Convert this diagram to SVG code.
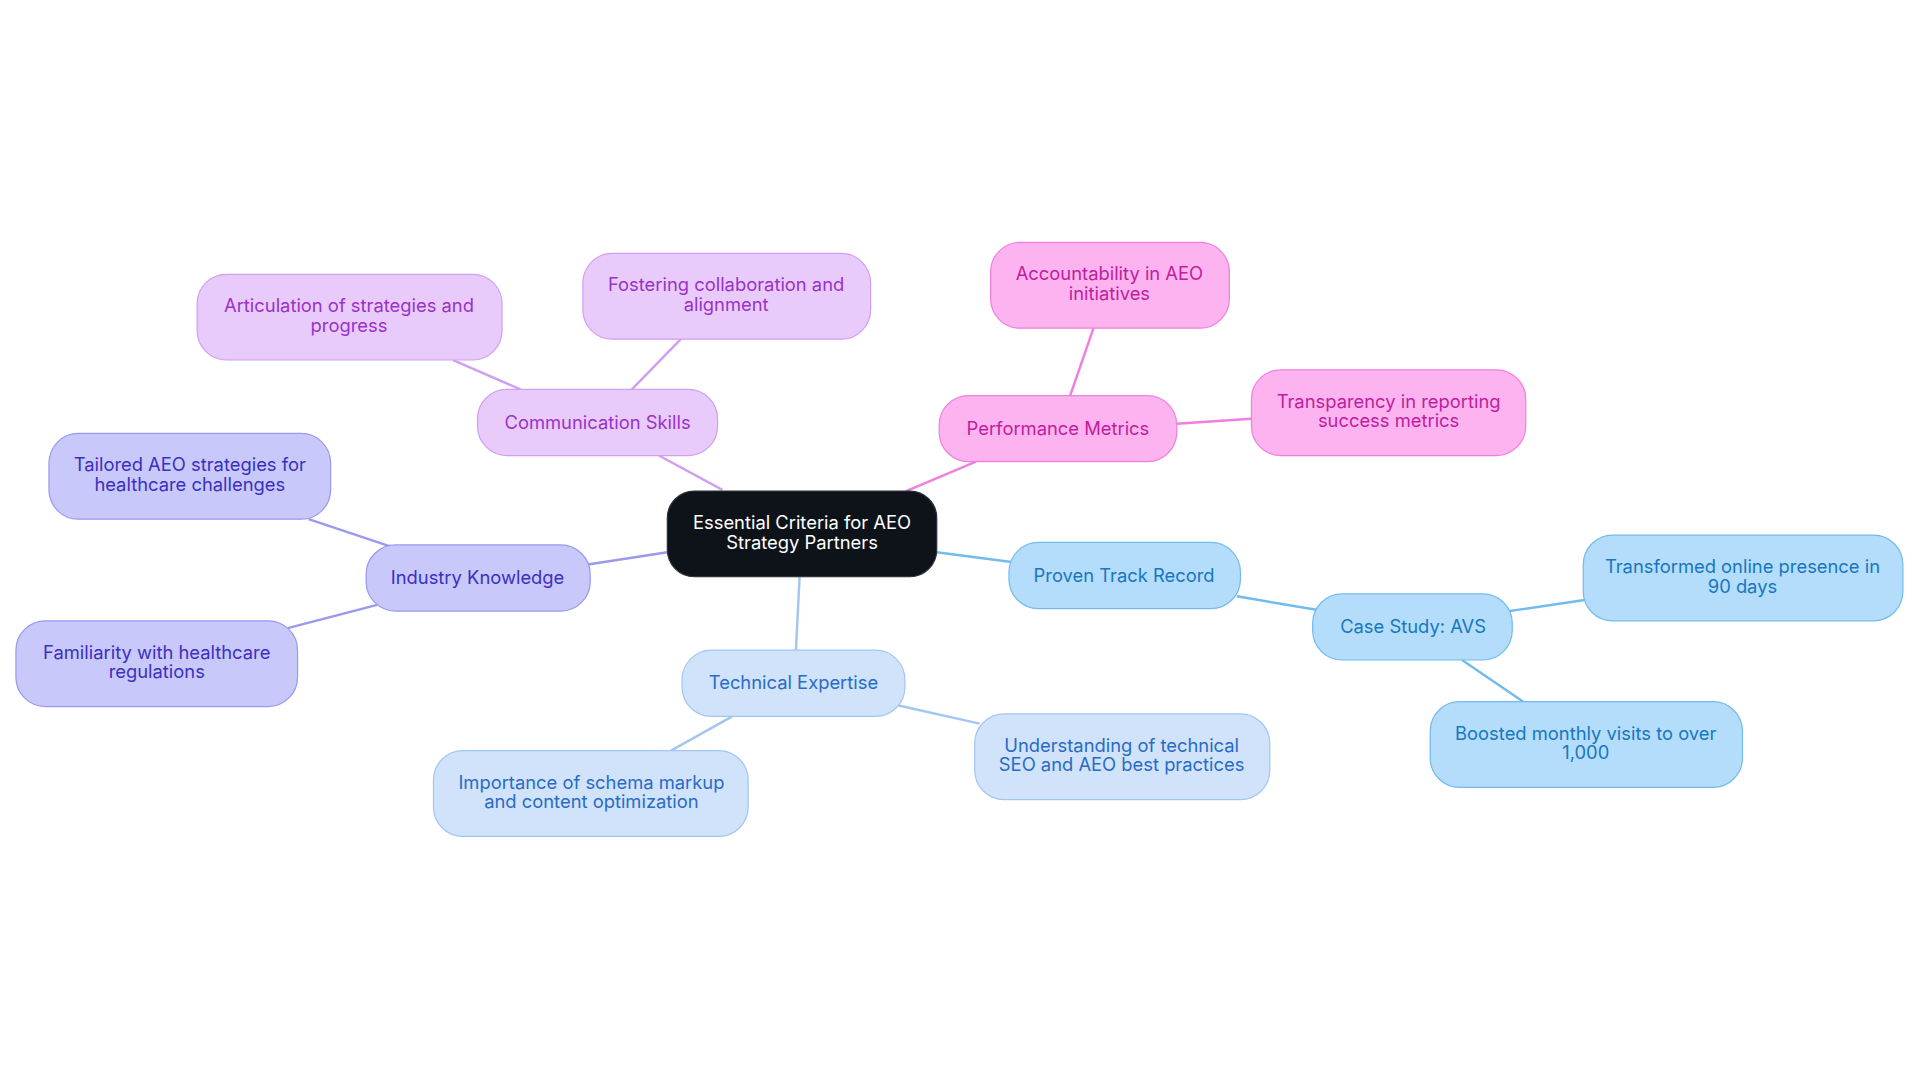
<svg xmlns="http://www.w3.org/2000/svg" width="1920" height="1083" viewBox="0 0 1920 1083">
<style>
text{font-family:Inter,"Noto Sans",sans-serif;font-size:15px;text-anchor:middle}
.c rect{fill:#e9cbfb;stroke:#cf9ff1}.c text{fill:#9a32c8}
.p rect{fill:#fdb3ef;stroke:#f07fe0}.p text{fill:#c01e9e}
.i rect{fill:#c9c8fb;stroke:#9b98ee}.i text{fill:#3b30bf}
.t rect{fill:#d0e3fb;stroke:#a3c6f1}.t text{fill:#2a6bc6}
.r rect{fill:#b4ddfb;stroke:#72bbef}.r text{fill:#1877bf}
rect{stroke-width:1}
#conn line{stroke-width:2;fill:none}
</style>
<rect width="1920" height="1083" fill="#fff"/>
<g transform="scale(1.2245)">
<g id="conn">
<line x1="590" y1="400" x2="538" y2="372" stroke="#cf9ff1"/>
<line x1="425" y1="318" x2="370" y2="294" stroke="#cf9ff1"/>
<line x1="516" y1="318" x2="556" y2="277" stroke="#cf9ff1"/>
<line x1="740" y1="401" x2="797" y2="377" stroke="#f07fe0"/>
<line x1="874" y1="323" x2="893" y2="268" stroke="#f07fe0"/>
<line x1="961" y1="346" x2="1022" y2="342" stroke="#f07fe0"/>
<line x1="545" y1="451" x2="480" y2="461" stroke="#9b98ee"/>
<line x1="318" y1="446" x2="252" y2="424" stroke="#9b98ee"/>
<line x1="308" y1="494" x2="235" y2="513" stroke="#9b98ee"/>
<line x1="653" y1="471" x2="650" y2="531" stroke="#a3c6f1"/>
<line x1="598" y1="585" x2="548" y2="613" stroke="#a3c6f1"/>
<line x1="733" y1="576" x2="800" y2="591" stroke="#a3c6f1"/>
<line x1="765" y1="451" x2="826" y2="459" stroke="#72bbef"/>
<line x1="1010" y1="487" x2="1075" y2="498" stroke="#72bbef"/>
<line x1="1233" y1="499" x2="1294" y2="490" stroke="#72bbef"/>
<line x1="1194" y1="539" x2="1244" y2="573" stroke="#72bbef"/>
</g>
<g id="center"><rect x="545" y="401" width="220" height="70" rx="22" fill="#0e131a" stroke="#2a2f36"/><text x="655" y="432" fill="#fff">Essential Criteria for AEO</text><text x="655" y="448" fill="#fff">Strategy Partners</text></g>
<g id="comm" class="c"><rect x="390" y="318" width="196" height="54" rx="24"/><text x="488" y="350">Communication Skills</text></g>
<g id="artic" class="c"><rect x="161" y="224" width="249" height="70" rx="24"/><text x="285" y="255">Articulation of strategies and</text><text x="285" y="271">progress</text></g>
<g id="foster" class="c"><rect x="476" y="207" width="235" height="70" rx="24"/><text x="593" y="238">Fostering collaboration and</text><text x="593" y="254">alignment</text></g>
<g id="perf" class="p"><rect x="767" y="323" width="194" height="54" rx="24"/><text x="864" y="355">Performance Metrics</text></g>
<g id="acc" class="p"><rect x="809" y="198" width="195" height="70" rx="24"/><text x="906" y="229">Accountability in AEO</text><text x="906" y="245">initiatives</text></g>
<g id="trans" class="p"><rect x="1022" y="302" width="224" height="70" rx="24"/><text x="1134" y="333">Transparency in reporting</text><text x="1134" y="349">success metrics</text></g>
<g id="ind" class="i"><rect x="299" y="445" width="183" height="54" rx="24"/><text x="390" y="477">Industry Knowledge</text></g>
<g id="tail" class="i"><rect x="40" y="354" width="230" height="70" rx="24"/><text x="155" y="385">Tailored AEO strategies for</text><text x="155" y="401">healthcare challenges</text></g>
<g id="fam" class="i"><rect x="13" y="507" width="230" height="70" rx="24"/><text x="128" y="538">Familiarity with healthcare</text><text x="128" y="554">regulations</text></g>
<g id="tech" class="t"><rect x="557" y="531" width="182" height="54" rx="24"/><text x="648" y="563">Technical Expertise</text></g>
<g id="imp" class="t"><rect x="354" y="613" width="257" height="70" rx="24"/><text x="483" y="644">Importance of schema markup</text><text x="483" y="660">and content optimization</text></g>
<g id="und" class="t"><rect x="796" y="583" width="241" height="70" rx="24"/><text x="916" y="614">Understanding of technical</text><text x="916" y="630">SEO and AEO best practices</text></g>
<g id="proven" class="r"><rect x="824" y="443" width="189" height="54" rx="24"/><text x="918" y="475">Proven Track Record</text></g>
<g id="case" class="r"><rect x="1072" y="485" width="163" height="54" rx="24"/><text x="1154" y="517">Case Study: AVS</text></g>
<g id="transf" class="r"><rect x="1293" y="437" width="261" height="70" rx="24"/><text x="1423" y="468">Transformed online presence in</text><text x="1423" y="484">90 days</text></g>
<g id="boost" class="r"><rect x="1168" y="573" width="255" height="70" rx="24"/><text x="1295" y="604">Boosted monthly visits to over</text><text x="1295" y="620">1,000</text></g>
</g>
</svg>
